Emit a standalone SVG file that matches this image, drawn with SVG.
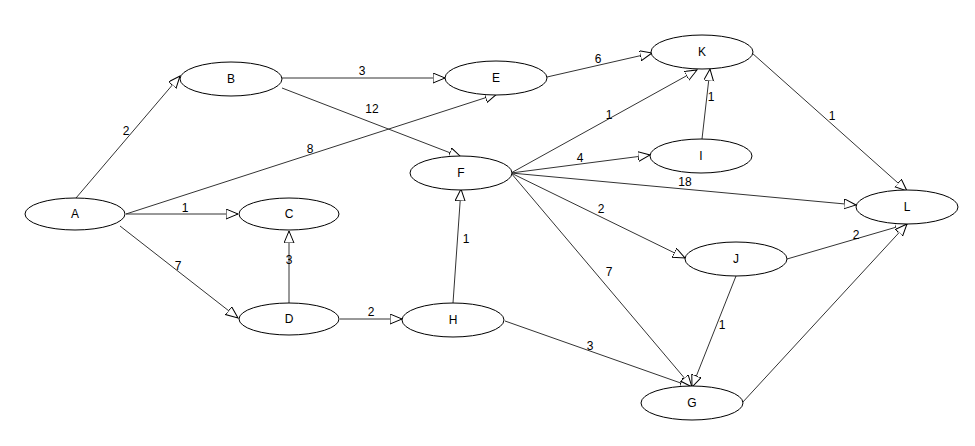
<svg xmlns="http://www.w3.org/2000/svg" width="975" height="446" viewBox="0 0 975 446">
<style>
ellipse{fill:#fff;stroke:#000;stroke-width:1}
text{font-family:"Liberation Sans",Arial,sans-serif;font-size:12px;fill:#000;text-anchor:middle}
#edges line{stroke:#333;stroke-width:1;marker-end:url(#arr)}
</style>
<defs><marker id="arr" markerUnits="userSpaceOnUse" markerWidth="14" markerHeight="12" refX="12" refY="5" orient="auto"><path d="M0,0 L12,5 L0,10 Z" fill="#fff" stroke="#000" stroke-width="1"/></marker></defs>
<rect width="975" height="446" fill="#fff"/>
<g id="edges">
<line x1="76" y1="198" x2="180" y2="76"/><text x="126" y="135">2</text>
<line x1="126" y1="214" x2="497" y2="94"/><text x="310" y="153">8</text>
<line x1="126" y1="214" x2="238" y2="214"/><text x="185" y="212">1</text>
<line x1="120" y1="226" x2="238" y2="318"/><text x="178" y="270">7</text>
<line x1="282" y1="78" x2="445" y2="78"/><text x="362" y="75">3</text>
<line x1="282" y1="88" x2="461" y2="157"/><text x="372" y="113">12</text>
<line x1="289" y1="303" x2="289" y2="231"/><text x="289" y="264">3</text>
<line x1="340" y1="319" x2="402" y2="319"/><text x="371" y="316">2</text>
<line x1="453" y1="303" x2="461" y2="189"/><text x="466" y="243">1</text>
<line x1="505" y1="321" x2="692" y2="387"/><text x="590" y="350">3</text>
<line x1="547" y1="77" x2="652" y2="53"/><text x="598" y="63">6</text>
<line x1="511" y1="173" x2="697" y2="70"/><text x="609" y="119">1</text>
<line x1="511" y1="173" x2="650" y2="155"/><text x="580" y="162">4</text>
<line x1="511" y1="173" x2="856" y2="205"/><text x="685" y="186">18</text>
<line x1="511" y1="173" x2="685" y2="258"/><text x="601" y="213">2</text>
<line x1="511" y1="173" x2="692" y2="387"/><text x="609" y="276">7</text>
<line x1="702" y1="139" x2="710" y2="69"/><text x="711" y="101">1</text>
<line x1="752" y1="53" x2="907" y2="191"/><text x="832" y="120">1</text>
<line x1="787" y1="259" x2="907" y2="224"/><text x="856" y="239">2</text>
<line x1="736" y1="276" x2="692" y2="387"/><text x="722" y="329">1</text>
<line x1="742" y1="403" x2="907" y2="224"/>
</g>
<g id="A"><ellipse cx="75" cy="214" rx="50" ry="16"/><text x="75" y="218">A</text></g>
<g id="B"><ellipse cx="231" cy="79" rx="51" ry="17"/><text x="231" y="83">B</text></g>
<g id="C"><ellipse cx="289" cy="214" rx="50" ry="16"/><text x="289" y="218">C</text></g>
<g id="D"><ellipse cx="289" cy="319" rx="50" ry="16"/><text x="289" y="323">D</text></g>
<g id="E"><ellipse cx="496" cy="78" rx="51" ry="17"/><text x="496" y="82">E</text></g>
<g id="F"><ellipse cx="461" cy="173" rx="51" ry="17"/><text x="461" y="177">F</text></g>
<g id="H"><ellipse cx="453" cy="320" rx="51" ry="17"/><text x="453" y="324">H</text></g>
<g id="K"><ellipse cx="702" cy="52" rx="51" ry="17"/><text x="702" y="56">K</text></g>
<g id="I"><ellipse cx="701" cy="156" rx="51" ry="17"/><text x="701" y="160">I</text></g>
<g id="L"><ellipse cx="907" cy="207" rx="51" ry="17"/><text x="907" y="211">L</text></g>
<g id="J"><ellipse cx="736" cy="259" rx="51" ry="17"/><text x="736" y="263">J</text></g>
<g id="G"><ellipse cx="692" cy="403" rx="51" ry="17"/><text x="692" y="407">G</text></g>
</svg>
